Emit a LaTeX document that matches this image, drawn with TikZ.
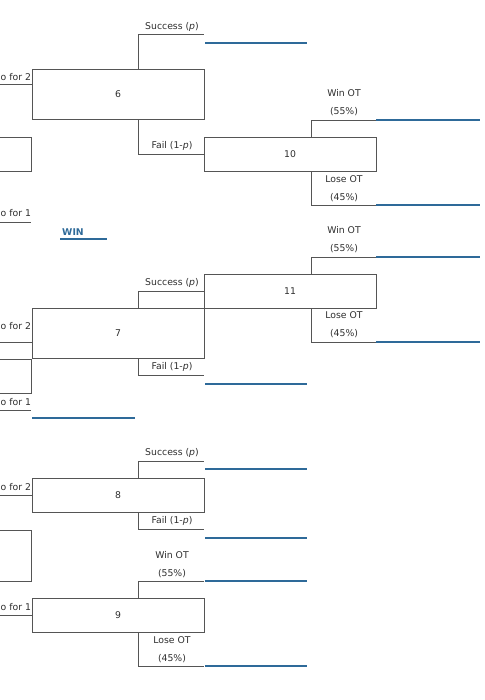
\documentclass[tikz,border=0pt]{standalone}
\usepackage{fontspec}
\setmainfont{DejaVu Sans}
\usepackage{xcolor}
\usepackage{tikz}
\usetikzlibrary{calc}
\definecolor{ink}{HTML}{2E2E2E}
\definecolor{edge}{HTML}{555555}
\definecolor{blue}{HTML}{2E6A99}
\tikzset{
  gameBox/.style={draw=edge, line width=0.9pt, rectangle, inner sep=0pt, minimum width=172pt, text=ink, font=\fontsize{9.3}{11}\selectfont},
  bigBox/.style={gameBox, minimum height=50pt},
  smallBox/.style={gameBox, minimum height=34pt},
  link/.style={draw=edge, line width=0.9pt},
  winLine/.style={draw=blue, line width=1.4pt},
  lab/.style={text=ink, inner sep=0pt, align=center, font=\fontsize{9.3}{18}\selectfont},
  winLab/.style={text=blue, inner sep=0pt, font=\bfseries\fontsize{9.3}{11}\selectfont}
}
\begin{document}
\begin{tikzpicture}[x=1pt, y=-1pt]
  \useasboundingbox (0,0) rectangle (484,700);
  \clip (0,0) rectangle (484,700);

  \node[bigBox] (b6) at (118,94) {6};
  \node[bigBox] (b7) at (118,333) {7};
  \node[smallBox] (b8) at (118,495) {8};
  \node[smallBox] (b9) at (118,615) {9};
  \node[smallBox] (b10) at (290,154) {10};
  \node[smallBox] (b11) at (290,291) {11};

  \coordinate (s6) at (204,34);
  \coordinate (f7) at (204,375);
  \coordinate (s8) at (204,461);
  \coordinate (f8) at (204,529);
  \coordinate (w9) at (204,581);
  \coordinate (l9) at (204,666);
  \coordinate (w10) at (376,120);
  \coordinate (l10) at (376,205);
  \coordinate (w11) at (376,257);
  \coordinate (l11) at (376,342);

  \draw[link] ($(b6.north west)+(107,0)$) |- (s6);
  \draw[link] ($(b6.south west)+(107,0)$) |- (b10.west);
  \draw[link] ($(b7.north west)+(107,0)$) |- (b11.west);
  \draw[link] ($(b7.south west)+(107,0)$) |- (f7);
  \draw[link] ($(b8.north west)+(107,0)$) |- (s8);
  \draw[link] ($(b8.south west)+(107,0)$) |- (f8);
  \draw[link] ($(b9.north west)+(107,0)$) |- (w9);
  \draw[link] ($(b9.south west)+(107,0)$) |- (l9);
  \draw[link] ($(b10.north west)+(108,0)$) |- (w10);
  \draw[link] ($(b10.south west)+(108,0)$) |- (l10);
  \draw[link] ($(b11.north west)+(108,0)$) |- (w11);
  \draw[link] ($(b11.south west)+(108,0)$) |- (l11);

  \node[lab] (ls6) at (172,27) {Success (\textit{p})};
  \node[lab] (lf6) at (172,146) {Fail (1-\textit{p})};
  \node[lab] (ls7) at (172,283) {Success (\textit{p})};
  \node[lab] (lf7) at (172,367) {Fail (1-\textit{p})};
  \node[lab] (ls8) at (172,453) {Success (\textit{p})};
  \node[lab] (lf8) at (172,521) {Fail (1-\textit{p})};
  \node[lab] (lw9) at (172,565) {Win OT\\(55\%)};
  \node[lab] (ll9) at (172,650) {Lose OT\\(45\%)};
  \node[lab] (lw10) at (344,103) {Win OT\\(55\%)};
  \node[lab] (ll10) at (344,189) {Lose OT\\(45\%)};
  \node[lab] (lw11) at (344,240) {Win OT\\(55\%)};
  \node[lab] (ll11) at (344,325) {Lose OT\\(45\%)};

  \draw[winLine] (205,43) -- (307,43);
  \draw[winLine] (205,384) -- (307,384);
  \draw[winLine] (205,469) -- (307,469);
  \draw[winLine] (205,538) -- (307,538);
  \draw[winLine] (205,581) -- (307,581);
  \draw[winLine] (205,666) -- (307,666);
  \draw[winLine] (w10) -- ++(104,0);
  \draw[winLine] (l10) -- ++(104,0);
  \draw[winLine] (w11) -- ++(104,0);
  \draw[winLine] (l11) -- ++(104,0);
  \draw[winLine] (32,418) -- (135,418);

  \node[winLab] (win) at (73,232) {WIN};
  \draw[winLine] (60,239) -- (107,239);

  \node[lab, anchor=west] (g6) at (0.5,77) {o for 2};
  \node[lab, anchor=west] (g7) at (0.5,326) {o for 2};
  \node[lab, anchor=west] (g8) at (0.5,487) {o for 2};
  \node[lab, anchor=west] (o6) at (0.5,213) {o for 1};
  \node[lab, anchor=west] (o7) at (0.5,402) {o for 1};
  \node[lab, anchor=west] (o9) at (0.5,607) {o for 1};

  \draw[link] (0,84) -- (b6.west |- 0,84);
  \draw[link] (0,342) -- (b7.west |- 0,342);
  \draw[link] (0,495) -- (b8.west);
  \draw[link] (0,615) -- (b9.west);
  \draw[link] (0,222) -- (31,222);
  \draw[link] (0,410) -- (31,410);

  \draw[link] (-10,137) rectangle (31,171);
  \draw[link] (-10,359) rectangle (31,393);
  \draw[link] (-10,530) rectangle (31,581);
\end{tikzpicture}
\end{document}
